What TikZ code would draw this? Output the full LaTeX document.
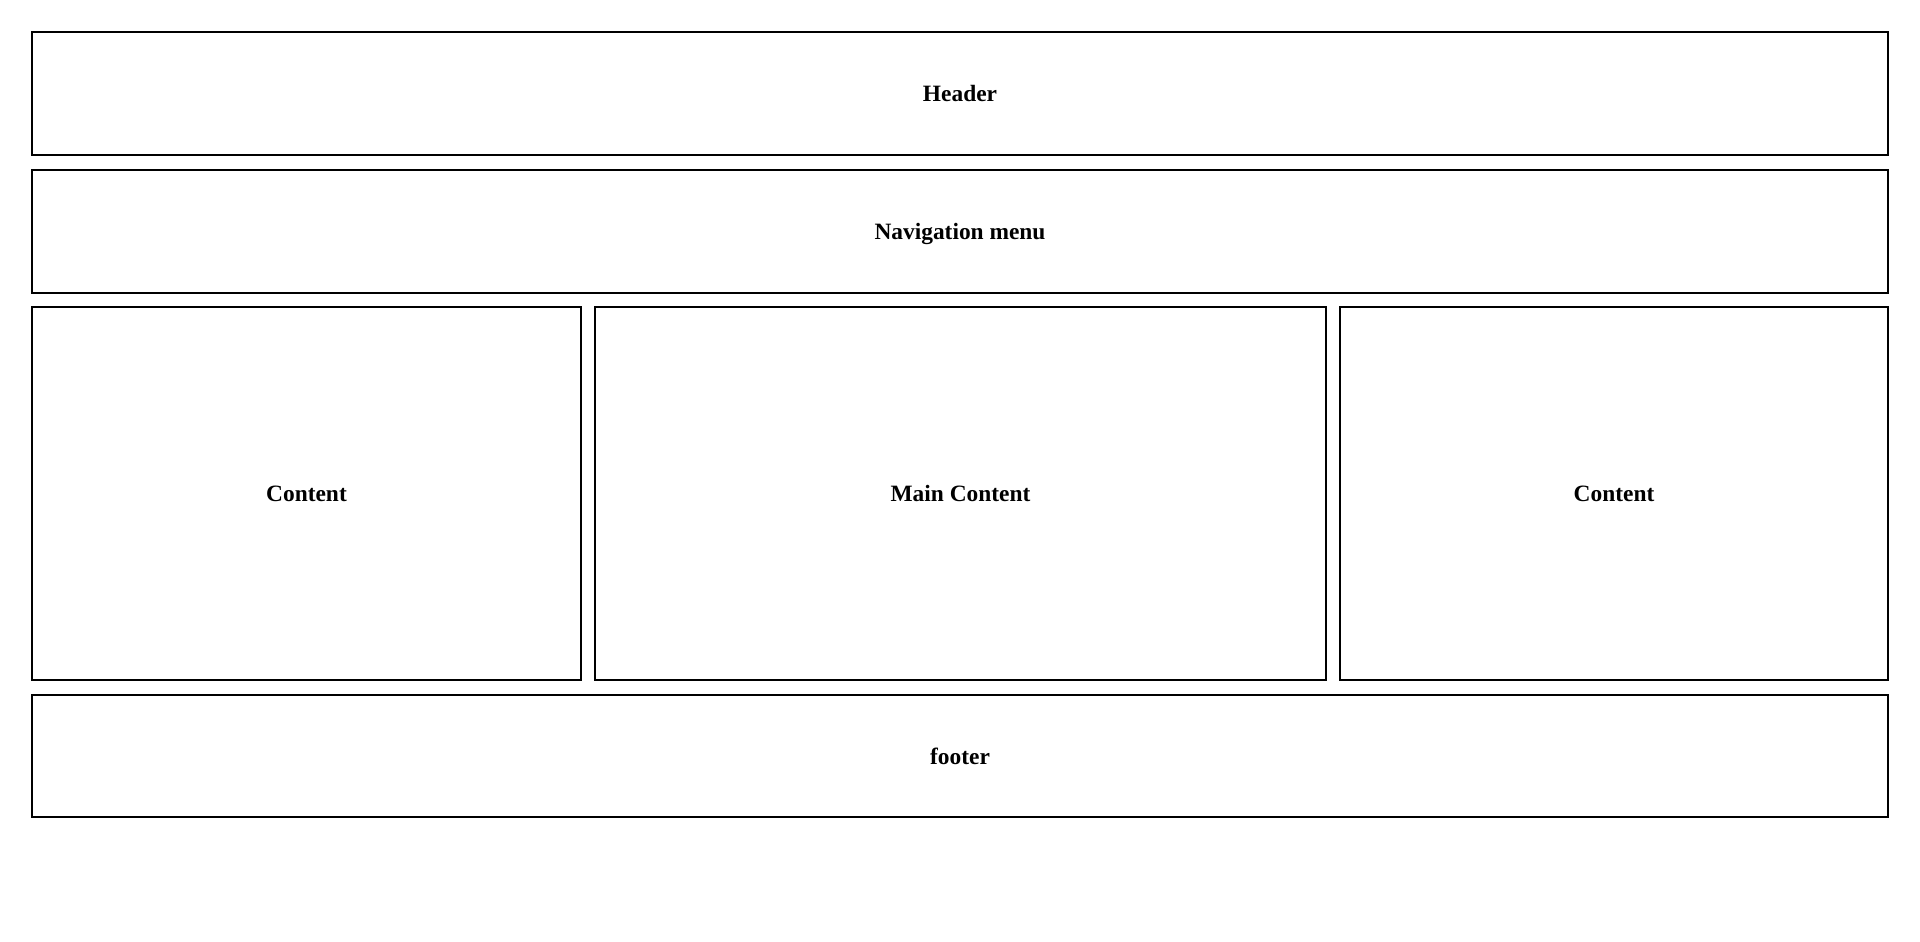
\documentclass[tikz,border=0pt]{standalone}
\usepackage{fontspec}
\setmainfont{Liberation Serif}
\usetikzlibrary{positioning}

\tikzset{
  block/.style={draw, line width=2pt, inner sep=0pt, text height=16pt, text depth=0pt,
    font=\bfseries\fontsize{23.4}{28}\selectfont},
  bar/.style={block, minimum width=1856pt, minimum height=123pt}
}

\begin{document}
\begin{tikzpicture}[x=1pt, y=-1pt]
  \useasboundingbox (0,0) rectangle (1920,942);
  % page rows
  \node[bar] (header) at (960,93.5) {Header};
  \node[bar] (nav) at (960,231.5) {Navigation menu};
  \node[block, minimum width=549pt, minimum height=373pt] (left) at (306.5,493.5) {Content};
  \node[block, minimum width=731pt, minimum height=373pt] (main) at (960.5,493.5) {Main Content};
  \node[block, minimum width=548pt, minimum height=373pt] (right) at (1614,493.5) {Content};
  \node[bar, minimum height=122pt] (footer) at (960,756) {footer};
\end{tikzpicture}
\end{document}
